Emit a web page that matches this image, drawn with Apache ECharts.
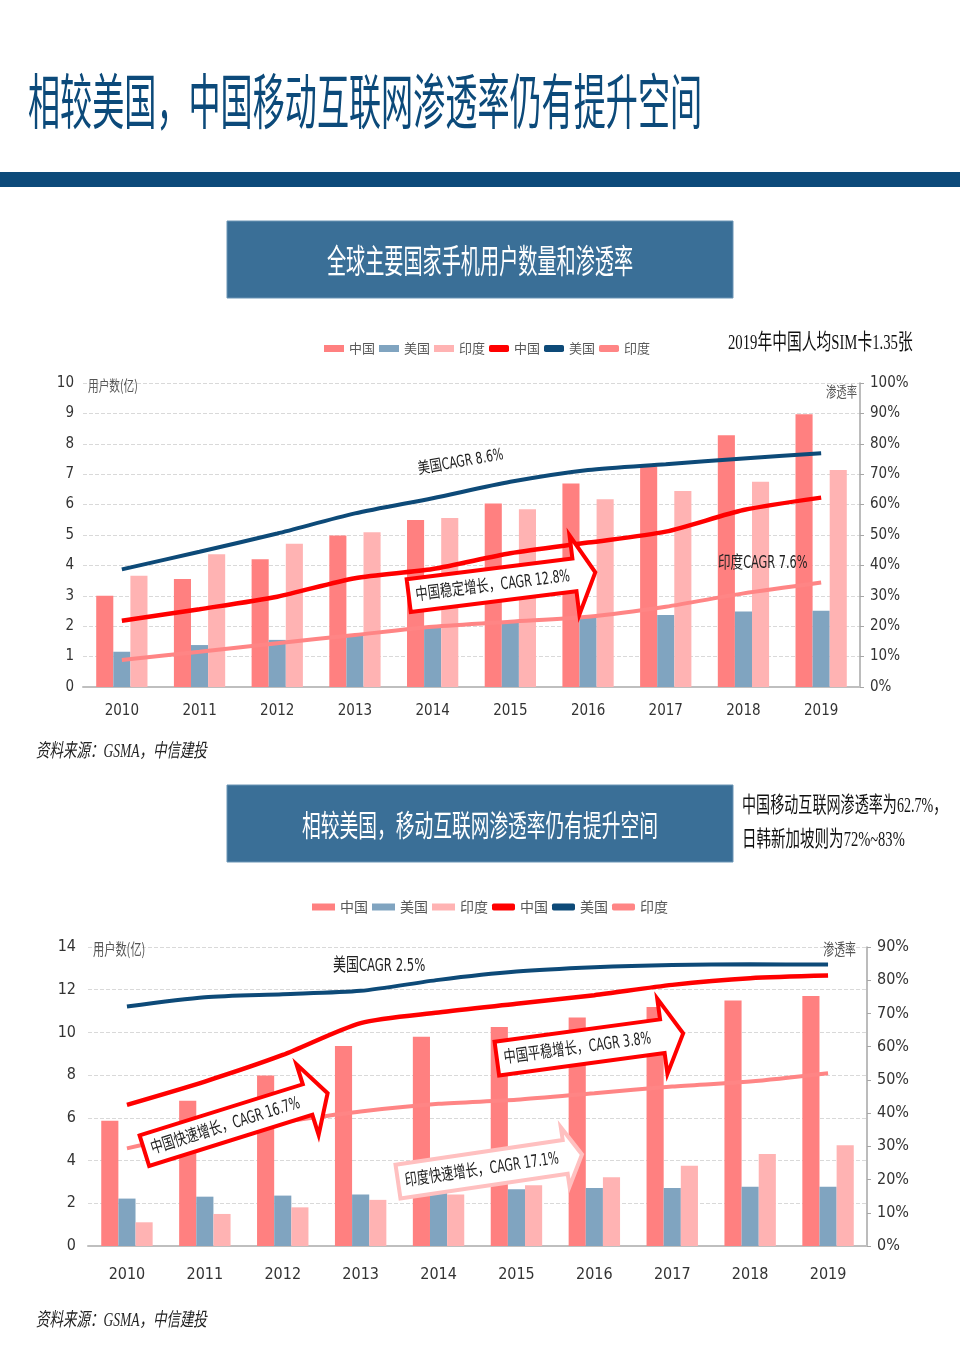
<!DOCTYPE html>
<html>
<head>
<meta charset="utf-8">
<title>相较美国，中国移动互联网渗透率仍有提升空间</title>
<script src="https://cdn.jsdelivr.net/npm/echarts@6/dist/echarts.min.js"></script>
<style>
  html, body { margin: 0; padding: 0; background: #fff; }
  #chart { width: 960px; height: 1357px; }
</style>
</head>
<body>
<div id="chart"></div>
<script>
// 年份
const years = ['2010', '2011', '2012', '2013', '2014', '2015', '2016', '2017', '2018', '2019']

// 图一：手机用户数(亿) 与 渗透率(%)
const usersChina = [3.0, 3.55, 4.2, 4.98, 5.49, 6.04, 6.69, 7.25, 8.28, 8.97]
const usersUS = [1.16, 1.38, 1.55, 1.74, 1.96, 2.13, 2.31, 2.37, 2.48, 2.51]
const usersIndia = [3.66, 4.37, 4.71, 5.09, 5.56, 5.85, 6.18, 6.45, 6.75, 7.14]
const penChina = [21.8, 25.6, 29.7, 35.8, 38.8, 44, 47.5, 51.1, 58.2, 62.3]
const penUS = [38.7, 44.5, 50.5, 57.1, 62.1, 67.5, 71.4, 73.3, 75.2, 76.9]
const penIndia = [8.9, 11.6, 14.4, 17.1, 19.8, 21.5, 23.1, 26.4, 30.8, 34.4]

// 图二：移动互联网用户数(亿) 与 渗透率(%)
const netUsersChina = [5.86, 6.8, 7.98, 9.36, 9.8, 10.25, 10.7, 11.19, 11.5, 11.7]
const netUsersUS = [2.22, 2.31, 2.36, 2.41, 2.53, 2.66, 2.72, 2.72, 2.77, 2.77]
const netUsersIndia = [1.11, 1.5, 1.81, 2.16, 2.41, 2.85, 3.22, 3.76, 4.31, 4.72]
const netPenChina = [42.5, 49.5, 57.5, 67.1, 70.3, 72.9, 75.5, 78.6, 80.6, 81.4]
const netPenUS = [72.1, 74.9, 75.8, 76.8, 80.1, 82.6, 83.9, 84.6, 84.8, 84.7]
const netPenIndia = [29.4, 34.4, 37.4, 40.5, 42.8, 44, 46, 48, 49.5, 52]

const barNames = ['中国', '美国', '印度']
const lineNames = ['线中国', '线美国', '线印度']

const C_BAR_CN = '#FF8080'
const C_BAR_US = '#80A4C0'
const C_BAR_IN = '#FFB3B3'
const C_LINE_CN = '#FF0000'
const C_LINE_US = '#0D4A78'
const C_LINE_IN = '#FF8585'
const C_BLUE = '#0C4A7A'
const C_BOX = '#3A6F97'

const F_NARROW = "'Liberation Sans Narrow','DejaVu Sans Condensed','Noto Sans CJK SC',sans-serif"
const F_CJK = "'Noto Sans CJK SC',sans-serif"
const F_SERIF = "'Liberation Serif','Noto Sans CJK SC',serif"

const myChart = echarts.init(document.getElementById('chart'), null, { renderer: 'canvas' })

// 压扁的文字（原图字体为窄体）
const txt = (text, x, y, size, sx, o = {}) => ({
	type: 'text',
	x: x,
	y: y,
	scaleX: sx,
	z: 100,
	rotation: o.rot ? (o.rot * Math.PI) / 180 : 0,
	style: {
		text: text,
		fontSize: size,
		fontFamily: o.font || F_CJK,
		fontStyle: o.italic ? 'italic' : 'normal',
		fill: o.color || '#222',
		align: o.align || 'left',
		verticalAlign: 'middle',
	},
})

const arrow = (cx, cy, len, bodyH, headH, headL, deg, color, text) => {
	const x0 = -len / 2
	const xh = len / 2 - headL
	const xt = len / 2
	return {
		type: 'group',
		x: cx,
		y: cy,
		z: 90,
		rotation: (deg * Math.PI) / 180,
		children: [
			{
				type: 'polygon',
				z: 90,
				shape: {
					points: [
						[x0, -bodyH / 2],
						[xh, -bodyH / 2],
						[xh, -headH / 2],
						[xt, 0],
						[xh, headH / 2],
						[xh, bodyH / 2],
						[x0, bodyH / 2],
					],
				},
				style: { fill: '#fff', stroke: color, lineWidth: 4 },
			},
			txt(text, x0 + 7, 1, 17, 0.72, { font: F_NARROW }),
		],
	}
}

const gridLine = { show: true, lineStyle: { color: '#D9D9D9', type: 'dashed', width: 1 } }
const axisText = { fontFamily: F_NARROW, fontSize: 15, color: '#333' }

const barSeries = (name, data, color, xi, yi) => ({
	name: name,
	type: 'bar',
	xAxisIndex: xi,
	yAxisIndex: yi,
	data: data,
	barGap: '0%',
	barCategoryGap: '34%',
	itemStyle: { color: color },
})

const lineSeries = (name, data, color, xi, yi, w) => ({
	name: name,
	type: 'line',
	xAxisIndex: xi,
	yAxisIndex: yi,
	data: data,
	smooth: 0.25,
	symbol: 'none',
	z: 5,
	itemStyle: { color: color },
	lineStyle: { color: color, width: w },
})

// 柱形图例用矩形，折线图例用扁条
const legendData = barNames.map((n) => ({ name: n, icon: 'rect' })).concat(lineNames.map((n) => ({ name: n, icon: 'roundRect' })))

const legendCommon = {
	data: legendData,
	formatter: (n) => n.replace('线', ''),
	itemHeight: 7,
}

let option = {
	animation: false,
	backgroundColor: '#fff',
	legend: [
		Object.assign({}, legendCommon, {
			left: 319,
			top: 337,
			itemWidth: 20,
			itemGap: 4,
			textStyle: { fontFamily: F_CJK, color: '#595959', fontSize: 13 },
		}),
		Object.assign({}, legendCommon, {
			left: 307,
			top: 895,
			itemWidth: 23,
			itemGap: 4,
			textStyle: { fontFamily: F_CJK, color: '#595959', fontSize: 14 },
		}),
	],
	grid: [
		{ left: 83, right: 100, top: 383, bottom: 670 },
		{ left: 88, right: 93, top: 947, bottom: 111 },
	],
	xAxis: [
		{
			gridIndex: 0,
			type: 'category',
			data: years,
			axisTick: { show: false },
			axisLine: { lineStyle: { color: '#BFBFBF', width: 2 } },
			axisLabel: Object.assign({ margin: 17 }, axisText),
		},
		{
			gridIndex: 1,
			type: 'category',
			data: years,
			axisTick: { show: false },
			axisLine: { lineStyle: { color: '#BFBFBF', width: 2 } },
			axisLabel: Object.assign({ margin: 21 }, axisText, { fontSize: 16 }),
		},
	],
	yAxis: [
		{
			gridIndex: 0,
			type: 'value',
			min: 0,
			max: 10,
			interval: 1,
			axisLine: { show: false },
			axisTick: { show: false },
			splitLine: gridLine,
			axisLabel: Object.assign({ margin: 9 }, axisText),
		},
		{
			gridIndex: 0,
			type: 'value',
			position: 'right',
			min: 0,
			max: 100,
			interval: 10,
			axisLine: { show: true, lineStyle: { color: '#A6A6A6', width: 1.5 } },
			axisTick: { show: true, length: 4, lineStyle: { color: '#A6A6A6' } },
			splitLine: { show: false },
			axisLabel: Object.assign({ margin: 10, formatter: '{value}%' }, axisText),
		},
		{
			gridIndex: 1,
			type: 'value',
			min: 0,
			max: 14,
			interval: 2,
			axisLine: { show: false },
			axisTick: { show: false },
			splitLine: gridLine,
			axisLabel: Object.assign({ margin: 12 }, axisText, { fontSize: 16 }),
		},
		{
			gridIndex: 1,
			type: 'value',
			position: 'right',
			min: 0,
			max: 90,
			interval: 10,
			axisLine: { show: true, lineStyle: { color: '#A6A6A6', width: 1.5 } },
			axisTick: { show: true, length: 4, lineStyle: { color: '#A6A6A6' } },
			splitLine: { show: false },
			axisLabel: Object.assign({ margin: 10, formatter: '{value}%' }, axisText, { fontSize: 16 }),
		},
	],
	series: [
		barSeries('中国', usersChina, C_BAR_CN, 0, 0),
		barSeries('美国', usersUS, C_BAR_US, 0, 0),
		barSeries('印度', usersIndia, C_BAR_IN, 0, 0),
		lineSeries('线中国', penChina, C_LINE_CN, 0, 1, 4.5),
		lineSeries('线美国', penUS, C_LINE_US, 0, 1, 4),
		lineSeries('线印度', penIndia, C_LINE_IN, 0, 1, 4),

		barSeries('中国', netUsersChina, C_BAR_CN, 1, 2),
		barSeries('美国', netUsersUS, C_BAR_US, 1, 2),
		barSeries('印度', netUsersIndia, C_BAR_IN, 1, 2),
		lineSeries('线中国', netPenChina, C_LINE_CN, 1, 3, 4.5),
		lineSeries('线美国', netPenUS, C_LINE_US, 1, 3, 4),
		lineSeries('线印度', netPenIndia, C_LINE_IN, 1, 3, 4),
	],
	graphic: [
		// 页面标题与蓝色横条
		txt('相较美国，中国移动互联网渗透率仍有提升空间', 28, 101, 60, 0.535, { color: C_BLUE }),
		{ type: 'rect', shape: { x: 0, y: 172, width: 960, height: 15 }, style: { fill: C_BLUE } },

		// 图一标题框
		{ type: 'rect', shape: { x: 227, y: 221, width: 506, height: 77 }, style: { fill: C_BOX, stroke: '#6B95B5', lineWidth: 1 } },
		txt('全球主要国家手机用户数量和渗透率', 480, 260, 33, 0.58, { color: '#fff', align: 'center' }),
		txt('2019年中国人均SIM卡1.35张', 728, 343, 22, 0.67, { font: F_SERIF, color: '#111' }),

		// 图一坐标轴名称与注释
		txt('用户数(亿)', 88, 385, 15, 0.71, { color: '#555' }),
		txt('渗透率', 857, 391, 15, 0.69, { color: '#555', align: 'right' }),
		txt('美国CAGR 8.6%', 418, 470, 16, 0.76, { font: F_NARROW, rot: 10 }),
		txt('印度CAGR 7.6%', 718, 564, 17, 0.74, { font: F_NARROW }),
		arrow(502, 584, 188, 33, 80, 21, 7.1, '#FF0000', '中国稳定增长，CAGR 12.8%'),

		txt('资料来源：GSMA，中信建投', 36, 752, 19, 0.71, { font: F_SERIF, italic: true, color: '#222' }),

		// 图二标题框
		{ type: 'rect', shape: { x: 227, y: 785, width: 506, height: 77 }, style: { fill: C_BOX, stroke: '#6B95B5', lineWidth: 1 } },
		txt('相较美国，移动互联网渗透率仍有提升空间', 480, 825, 30, 0.625, { color: '#fff', align: 'center' }),
		txt('中国移动互联网渗透率为62.7%，', 742, 806, 22, 0.64, { font: F_SERIF, color: '#111' }),
		txt('日韩新加坡则为72%~83%', 742, 840, 22, 0.66, { font: F_SERIF, color: '#111' }),

		// 图二坐标轴名称与注释
		txt('用户数(亿)', 93, 949, 16, 0.7, { color: '#555' }),
		txt('渗透率', 856, 949, 16, 0.68, { color: '#555', align: 'right' }),
		txt('美国CAGR 2.5%', 333, 966, 18, 0.72, { font: F_NARROW }),
		arrow(236, 1122, 192, 32, 74, 21, 17.4, '#FF0000', '中国快速增长，CAGR 16.7%'),
		arrow(590, 1046, 188, 34, 76, 21, 7.7, '#FF0000', '中国平稳增长，CAGR 3.8%'),
		arrow(490, 1168, 186, 34, 60, 17, 8.4, '#FFC0C0', '印度快速增长，CAGR 17.1%'),

		txt('资料来源：GSMA，中信建投', 36, 1321, 19, 0.71, { font: F_SERIF, italic: true, color: '#222' }),
	],
}

myChart.setOption(option)

window.addEventListener('resize', () => {
	myChart.resize()
})
</script>
</body>
</html>
